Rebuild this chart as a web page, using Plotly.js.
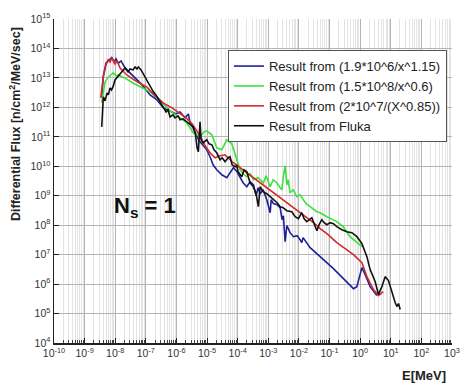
<!DOCTYPE html>
<html><head><meta charset="utf-8">
<script src="https://cdn.plot.ly/plotly-3.0.1.min.js"></script>
<style>html,body{margin:0;padding:0;background:#fff}</style>
</head><body><div id="chart" style="width:474px;height:392px"></div>
<script>
// Energy E [MeV] and differential flux values
const blueE = [3.62e-9,4.09e-9,5.0e-9,6.27e-9,7.69e-9,9.15e-9,1.06e-8,1.26e-8,1.55e-8,2.09e-8,3.91e-8,7.52e-8,1.37e-7,2.32e-7,3.73e-7,6.18e-7,9.7e-7,1.31e-6,1.91e-6,2.45e-6,2.78e-6,3.76e-6,4.6e-6,5.48e-6,6.72e-6,9.77e-6,1.25e-5,1.57e-5,2.07e-5,3.02e-5,4.41e-5,5.65e-5,7.23e-5,9.55e-5,1.20e-4,1.50e-4,1.98e-4,2.54e-4,3.26e-4,3.99e-4,4.65e-4,5.4e-4,6.76e-4,8.93e-4,1.15e-3,1.24e-3,1.47e-3,1.94e-3,2.43e-3,2.82e-3,3.11e-3,3.54e-3,4.03e-3,5.15e-3,6.6e-3,8.73e-3,1.09e-2,1.24e-2,1.37e-2,1.81e-2,2.32e-2,2.98e-2,4.93e-2,8.17e-2,1.34e-1,2.84e-1,6.04e-1,7.8e-1,1.14,1.46,2.12,3.52];
const blueF = [2.27e12,1.17e13,3.22e13,4.07e13,4.95e13,3.49e13,4.41e13,3.15e13,3.77e13,2.18e13,1.11e13,5.79e12,2.65e12,1.79e12,9.6e11,7.6e11,6.0e11,7.0e11,4.4e11,6.0e11,2.99e11,1.73e11,1.0e11,7.3e10,5.8e10,3.62e10,2.10e10,1.12e10,7.6e9,5.15e9,4.07e9,6.0e9,8.9e9,6.5e9,4.4e9,2.76e9,2.02e9,2.99e9,2.36e9,1.0e9,1.87e9,1.17e9,1.6e9,7.3e8,2.65e8,7.3e8,5.4e8,4.95e8,3.92e8,1.53e8,2.1e8,2.76e7,9.6e7,5.57e7,4.07e7,4.41e7,3.22e7,2.55e7,3.77e7,2.55e7,1.73e7,1.37e7,8.55e6,5.36e6,3.35e6,1.53e6,7.0e5,8.2e5,3.62e6,2.10e6,8.2e5,4.07e5];

const greenE = [3.62e-9,4.09e-9,4.65e-9,5.96e-9,7.3e-9,8.67e-9,1.06e-8,1.26e-8,2.09e-8,3.91e-8,8.28e-8,1.56e-7,2.91e-7,6.18e-7,1.31e-6,2.17e-6,3.56e-6,5.9e-6,7.98e-6,9.77e-6,1.43e-5,2.07e-5,3.02e-5,4.41e-5,6.41e-5,9.35e-5,1.20e-4,1.50e-4,1.98e-4,2.54e-4,3.26e-4,4.65e-4,6.92e-4,8.47e-4,1.15e-3,1.44e-3,1.9e-3,2.43e-3,2.76e-3,3.16e-3,3.54e-3,4.03e-3,4.44e-3,5.15e-3,6.45e-3,8.53e-3,1.09e-2,1.4e-2,1.72e-2,2.32e-2,3.85e-2,4.93e-2,8.17e-2,1.73e-1,2.78e-1,4.71e-1,7.8e-1,1.14];
const greenF = [1.42e12,3.92e12,7.3e12,1.08e13,1.26e13,1.48e13,1.17e13,1.26e13,9.8e12,6.6e12,4.48e12,3.03e12,1.79e12,7.6e11,4.4e11,2.99e11,1.37e11,1.0e11,1.48e11,1.6e11,1.17e11,4.24e10,3.62e10,7.9e10,5.8e10,1.66e10,7.6e9,5.57e9,4.4e9,5.57e9,3.49e9,4.07e9,2.76e9,4.76e9,2.02e9,3.49e9,2.76e9,1.87e9,1.6e9,5.15e9,1.04e10,2.36e9,3.49e9,1.26e9,1.6e9,9.25e8,1.08e9,7.3e8,5.4e8,4.24e8,2.87e8,2.65e8,1.94e8,1.32e8,8.9e7,4.07e7,2.55e7,1.87e7];

const redE = [3.36e-9,4.09e-9,5.0e-9,5.82e-9,6.76e-9,7.85e-9,9.84e-9,1.15e-8,1.44e-8,2.38e-8,5.05e-8,1.07e-7,2.0e-7,3.65e-7,7.18e-7,1.31e-6,2.06e-6,3.24e-6,4.38e-6,5.9e-6,8.61e-6,1.25e-5,1.82e-5,2.66e-5,3.87e-5,5.65e-5,7.23e-5,1.20e-4,1.98e-4,3.18e-4,5.4e-4,8.93e-4,1.47e-3,2.43e-3,4.03e-3,6.45e-3,1.09e-2,1.81e-2,2.98e-2,4.93e-2,8.17e-2,1.73e-1,3.24e-1,6.04e-1,1.14,1.66,2.72,3.96,5.65];
const redF = [2.1e12,1.08e13,2.76e13,4.07e13,3.49e13,4.76e13,2.99e13,3.77e13,2.18e13,1.26e13,7.5e12,4.95e12,2.45e12,1.42e12,9.6e11,6.0e11,4.4e11,2.76e11,1.73e11,1.08e11,4.95e10,2.87e10,1.94e10,2.27e10,2.45e10,1.66e10,1.32e10,8.9e9,6.0e9,4.07e9,2.76e9,1.87e9,1.26e9,8.55e8,5.79e8,3.92e8,2.65e8,1.79e8,1.22e8,7.6e7,5.15e7,2.55e7,1.6e7,1.0e7,5.36e6,1.79e6,6.5e5,4.07e5,5.57e5];

const blackE = [3.62e-9,3.99e-9,4.09e-9,4.65e-9,5.4e-9,5.96e-9,6.76e-9,7.57e-9,8.67e-9,9.84e-9,1.12e-8,1.24e-8,1.44e-8,1.67e-8,2.09e-8,2.62e-8,3.05e-8,3.82e-8,4.44e-8,5.15e-8,5.69e-8,6.97e-8,8.28e-8,1.02e-7,1.21e-7,1.48e-7,1.76e-7,2.15e-7,2.56e-7,3.14e-7,3.73e-7,4.57e-7,5.31e-7,6.18e-7,7.74e-7,9.0e-7,1.13e-6,1.31e-6,1.64e-6,2.17e-6,2.78e-6,3.56e-6,4.21e-6,4.71e-6,5.2e-6,5.48e-6,5.9e-6,6.37e-6,7.4e-6,9.77e-6,1.16e-5,1.43e-5,1.69e-5,2.07e-5,2.66e-5,3.09e-5,3.87e-5,4.85e-5,5.65e-5,6.57e-5,8.22e-5,9.35e-5,1.03e-4,1.36e-4,1.62e-4,1.98e-4,2.54e-4,3.26e-4,3.99e-4,4.74e-4,5.4e-4,6.76e-4,8.93e-4,1.15e-3,1.47e-3,1.94e-3,2.43e-3,3.05e-3,4.03e-3,5.86e-3,7.52e-3,9.64e-3,1.24e-2,1.48e-2,1.81e-2,2.64e-2,3.14e-2,3.85e-2,4.57e-2,5.6e-2,6.67e-2,8.17e-2,1.05e-1,1.34e-1,1.73e-1,2.52e-1,3.67e-1,5.36e-1,7.8e-1,1.14,1.66,2.12,3.09,3.96,5.12,6.56,8.41,10.9,13.9,15.8,17.9,20.3];
const blackF = [2.18e11,8.2e11,2.27e12,1.66e12,3.1e12,2.65e12,4.58e12,3.92e12,5.36e12,8.55e12,1.0e13,1.17e13,1.48e13,1.73e13,2.18e13,1.6e13,2.02e13,1.87e13,2.36e13,2.02e13,2.36e13,1.87e13,1.37e13,1.0e13,7.3e12,4.58e12,3.35e12,2.65e12,1.94e12,1.42e12,1.04e12,7.0e11,8.2e11,4.76e11,5.57e11,4.4e11,5.15e11,3.77e11,4.07e11,3.22e11,2.76e11,2.18e11,1.17e11,4.24e10,3.1e10,1.17e11,3.22e11,7.9e10,6.27e10,7.9e10,5.8e10,5.36e10,3.62e10,2.87e10,1.66e10,1.94e10,1.42e10,1.94e10,2.10e10,1.12e10,9.6e9,1.04e10,6.5e9,4.4e9,7.6e9,6.5e9,2.76e9,2.02e9,1.17e9,4.24e8,2.02e9,1.37e9,1.17e9,9.25e8,7.3e8,5.79e8,4.24e8,3.92e8,3.1e8,2.87e8,1.94e8,1.66e8,2.65e8,1.66e8,1.32e8,1.79e8,1.12e8,6.5e7,1.04e8,1.53e8,1.22e8,1.04e8,1.22e8,1.12e8,8.9e7,7.0e7,6.0e7,5.57e7,4.07e7,2.36e7,8.55e6,3.1e6,1.22e6,4.41e5,8.2e5,1.79e6,1.32e6,5.15e5,2.36e5,1.73e5,2.18e5,1.37e5];

const seriesNames = ['Result from (1.9*10^6/x^1.15)','Result from (1.5*10^8/x^0.6)','Result from (2*10^7/(X^0.85))','Result from Fluka'];
const xTickVals = [1e-10,1e-9,1e-8,1e-7,1e-6,1e-5,1e-4,1e-3,1e-2,1e-1,1,1e1,1e2,1e3];
const xTickText = ['10<sup>-10</sup>','10<sup>-9</sup>','10<sup>-8</sup>','10<sup>-7</sup>','10<sup>-6</sup>','10<sup>-5</sup>','10<sup>-4</sup>','10<sup>-3</sup>','10<sup>-2</sup>','10<sup>-1</sup>','10<sup>0</sup>','10<sup>1</sup>','10<sup>2</sup>','10<sup>3</sup>'];
const yTickVals = [1e4,1e5,1e6,1e7,1e8,1e9,1e10,1e11,1e12,1e13,1e14,1e15];
const yTickText = ['10<sup>4</sup>','10<sup>5</sup>','10<sup>6</sup>','10<sup>7</sup>','10<sup>8</sup>','10<sup>9</sup>','10<sup>10</sup>','10<sup>11</sup>','10<sup>12</sup>','10<sup>13</sup>','10<sup>14</sup>','10<sup>15</sup>'];

const FONT = 'Liberation Sans, Arial, sans-serif';
const colors = ['#1f1f99','#3de03d','#d42a2a','#111111'];
const xs = [blueE, greenE, redE, blackE];
const ys = [blueF, greenF, redF, blackF];
const traces = xs.map((x, i) => ({
  x: x, y: ys[i], type: 'scatter', mode: 'lines', name: seriesNames[i],
  line: {color: colors[i], width: 1.6}
}));

const layout = {
  width: 474, height: 392,
  margin: {l: 54, r: 22, t: 19, b: 49},
  paper_bgcolor: '#ffffff', plot_bgcolor: '#ffffff',
  font: {family: FONT, color: '#333'},
  showlegend: true,
  legend: {
    x: 0.437, y: 0.904, xanchor: 'left', yanchor: 'top',
    bgcolor: '#ffffff', bordercolor: '#555', borderwidth: 1,
    font: {family: FONT, size: 13, color: '#222'},
    tracegroupgap: 0
  },
  xaxis: {
    type: 'log', range: [-10, 3],
    tickvals: xTickVals, ticktext: xTickText,
    tickfont: {size: 10.5, color: '#333'},
    ticks: 'inside', ticklen: 5, tickcolor: '#222',
    showline: true, linecolor: '#222', linewidth: 1.5,
    showgrid: true, gridcolor: '#b4b4b4', gridwidth: 1,
    minor: {dtick: 'D1', showgrid: true, gridcolor: '#e4e4e4', ticks: 'inside', ticklen: 3, tickcolor: '#444'},
    zeroline: false
  },
  yaxis: {
    type: 'log', range: [4, 15],
    tickvals: yTickVals, ticktext: yTickText,
    tickfont: {size: 10.5, color: '#333'},
    ticks: 'inside', ticklen: 5, tickcolor: '#222',
    showline: true, linecolor: '#222', linewidth: 1.5,
    showgrid: true, gridcolor: '#b4b4b4', gridwidth: 1,
    zeroline: false
  },
  annotations: [
    {xref: 'paper', yref: 'paper', x: -0.098, y: 0.676, xanchor: 'center', yanchor: 'middle',
     textangle: -90, showarrow: false,
     text: '<b>Differential Flux [n/cm<sup>2</sup>/MeV/sec]</b>',
     font: {family: FONT, size: 12.5, color: '#222'}},
    {xref: 'paper', yref: 'paper', x: 0.99, y: -0.099, xanchor: 'right', yanchor: 'middle',
     showarrow: false, text: '<b>E[MeV]</b>',
     font: {family: FONT, size: 13, color: '#222'}},
    {xref: 'paper', yref: 'paper', x: 0.145, y: 0.42, xanchor: 'left', yanchor: 'middle',
     showarrow: false, text: '<b>N<sub>s</sub> = 1</b>',
     font: {family: FONT, size: 22, color: '#111'}}
  ]
};

Plotly.newPlot('chart', traces, layout, {displayModeBar: false, staticPlot: true});
</script>
</body></html>
